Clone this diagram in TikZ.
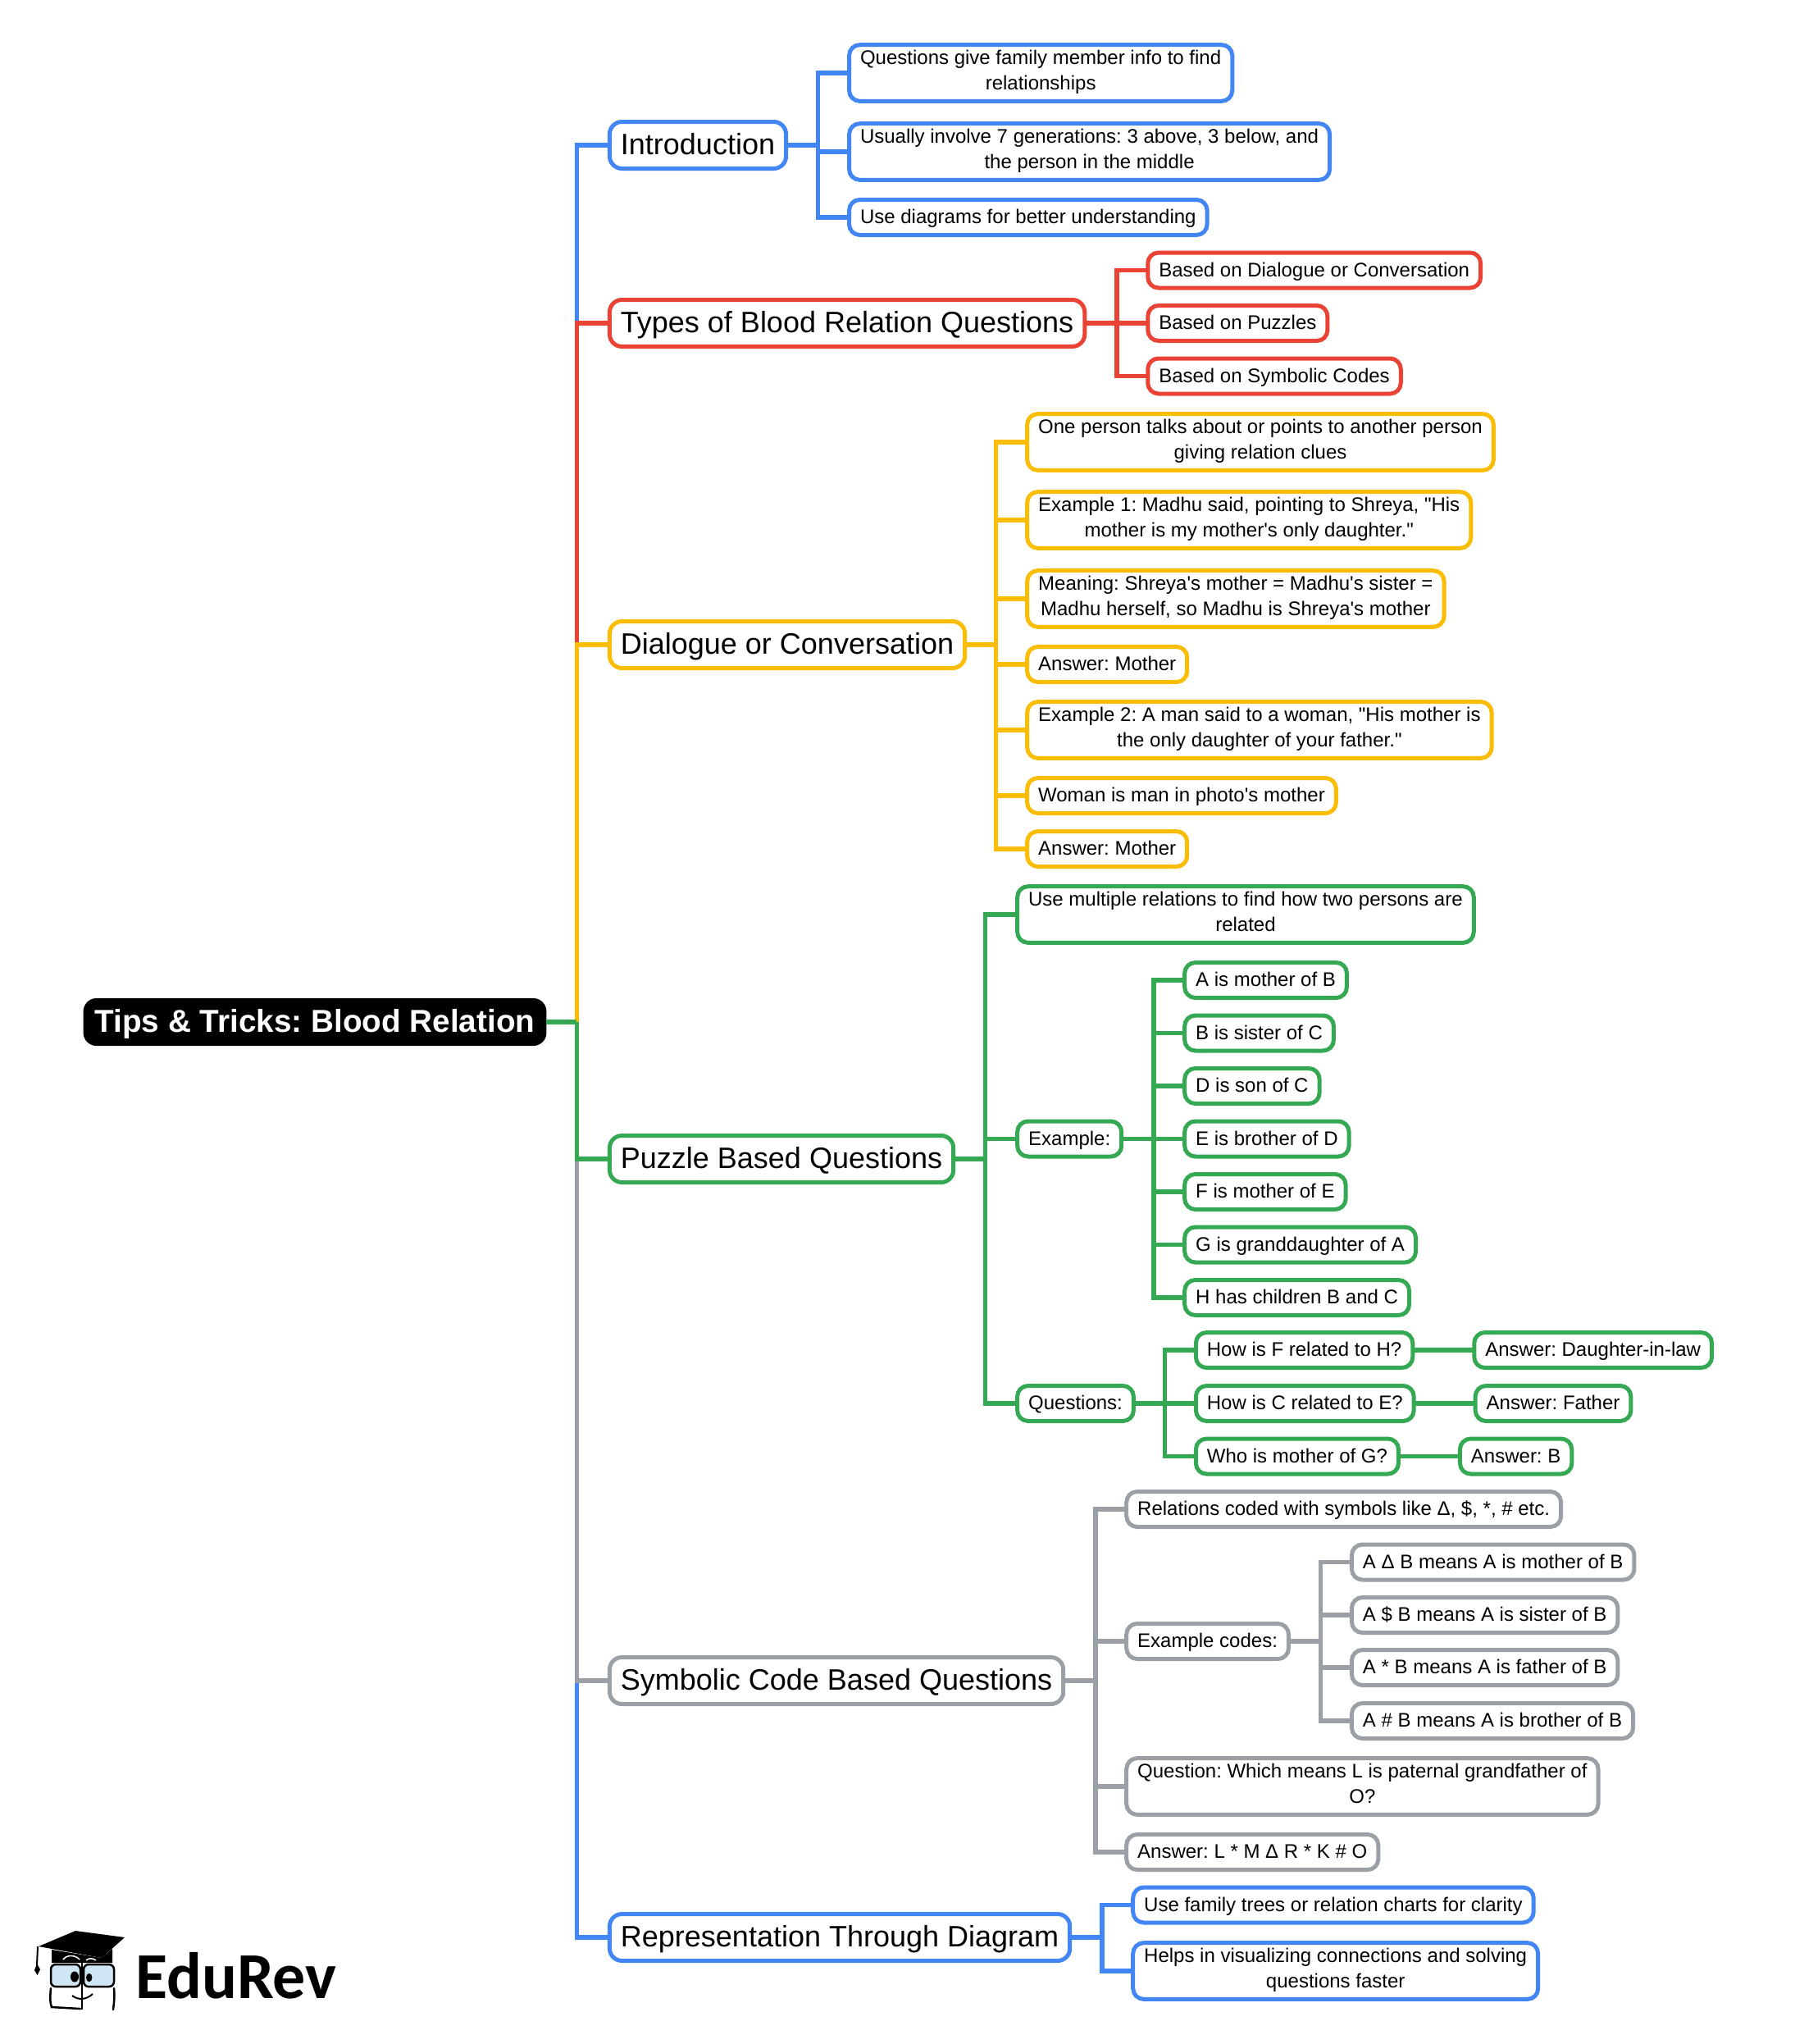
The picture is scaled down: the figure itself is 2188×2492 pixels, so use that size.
\documentclass[tikz,border=0pt]{standalone}
\usepackage{fontspec}
\usepackage{tikz}
\usetikzlibrary{positioning}
\newfontfamily\mapfont{Liberation Sans}
\newfontfamily\logofont{Carlito}
\definecolor{mapblue}{HTML}{4285F4}
\definecolor{mapred}{HTML}{EA4335}
\definecolor{mapyellow}{HTML}{FBBC04}
\definecolor{mapgreen}{HTML}{34A853}
\definecolor{mapgrey}{HTML}{9AA0A6}
\definecolor{logoglass}{HTML}{CFE6F5}
\newcommand{\linefill}{\rule[-8pt]{0pt}{31pt}}
\tikzset{
  leaf/.style={draw, fill=white, line width=5pt, rounded corners=13pt, outer sep=0pt,
    inner xsep=13.5pt, inner ysep=6pt, align=center,
    font=\mapfont\frenchspacing\fontsize{24}{31.3}\selectfont,
    execute at begin node={\linefill}},
  branch/.style={draw, fill=white, line width=5pt, rounded corners=15pt, outer sep=0pt,
    inner xsep=13.5pt, inner ysep=8.5pt,
    font=\mapfont\frenchspacing\fontsize{36}{40}\selectfont,
    execute at begin node={\rule[-9pt]{0pt}{40pt}}},
  rootbox/.style={fill=black, text=white, rounded corners=16pt, outer sep=0pt,
    inner xsep=14pt, inner ysep=8pt,
    font=\mapfont\frenchspacing\bfseries\fontsize{38.7}{42}\selectfont,
    execute at begin node={\rule[-9pt]{0pt}{42pt}}},
  link/.style={line width=5.6pt}
}
\begin{document}
\begin{tikzpicture}[x=1pt,y=-1pt]
\useasboundingbox (0,0) rectangle (2188,2492);
\node [rootbox] (root) at (384,1246) {Tips \& Tricks: Blood Relation};
\coordinate [right=37pt of root] (rootbar);
\node [branch, draw=mapblue, right=40pt of rootbar, yshift=1069pt] (intro) {Introduction};
\node [branch, draw=mapred, right=40pt of rootbar, yshift=852pt] (types) {Types of Blood Relation Questions};
\node [branch, draw=mapyellow, right=40pt of rootbar, yshift=460pt] (dialog) {Dialogue or Conversation};
\node [branch, draw=mapgreen, right=40pt of rootbar, yshift=-167pt] (puzzle) {Puzzle Based Questions};
\node [branch, draw=mapgrey, right=40pt of rootbar, yshift=-803pt] (symbolic) {Symbolic Code Based Questions};
\node [branch, draw=mapblue, right=40pt of rootbar, yshift=-1116pt] (repr) {Representation Through Diagram};

\coordinate [right=39pt of intro] (introbar);
\node [leaf, draw=mapblue, right=38pt of introbar, yshift=88pt] (intro1) {Questions give family member info to find\\relationships\linefill};
\node [leaf, draw=mapblue, right=38pt of introbar, yshift=-8pt] (intro2) {Usually involve 7 generations: 3 above, 3 below, and\\the person in the middle\linefill};
\node [leaf, draw=mapblue, right=38pt of introbar, yshift=-88pt] (intro3) {Use diagrams for better understanding};

\coordinate [right=39pt of types] (typesbar);
\node [leaf, draw=mapred, right=38pt of typesbar, yshift=64.5pt] (types1) {Based on Dialogue or Conversation};
\node [leaf, draw=mapred, right=38pt of typesbar] (types2) {Based on Puzzles};
\node [leaf, draw=mapred, right=38pt of typesbar, yshift=-64.5pt] (types3) {Based on Symbolic Codes};

\coordinate [right=38pt of dialog] (dialogbar);
\node [leaf, draw=mapyellow, right=38pt of dialogbar, yshift=247pt] (dialog1) {One person talks about or points to another person\\giving relation clues\linefill};
\node [leaf, draw=mapyellow, right=38pt of dialogbar, yshift=152pt] (dialog2) {Example 1: Madhu said, pointing to Shreya, "His\\mother is my mother's only daughter."\linefill};
\node [leaf, draw=mapyellow, right=38pt of dialogbar, yshift=56pt] (dialog3) {Meaning: Shreya's mother = Madhu's sister =\\Madhu herself, so Madhu is Shreya's mother\linefill};
\node [leaf, draw=mapyellow, right=38pt of dialogbar, yshift=-24pt] (dialog4) {Answer: Mother};
\node [leaf, draw=mapyellow, right=38pt of dialogbar, yshift=-104pt] (dialog5) {Example 2: A man said to a woman, "His mother is\\the only daughter of your father."\linefill};
\node [leaf, draw=mapyellow, right=38pt of dialogbar, yshift=-184pt] (dialog6) {Woman is man in photo's mother};
\node [leaf, draw=mapyellow, right=38pt of dialogbar, yshift=-249pt] (dialog7) {Answer: Mother};

\coordinate [right=39pt of puzzle] (puzzlebar);
\node [leaf, draw=mapgreen, right=39pt of puzzlebar, yshift=298pt] (puzzle1) {Use multiple relations to find how two persons are\\related\linefill};
\node [leaf, draw=mapgreen, right=39pt of puzzlebar, yshift=24.5pt] (example) {Example:};
\node [leaf, draw=mapgreen, right=39pt of puzzlebar, yshift=-298pt] (questions) {Questions:};

\coordinate [right=39pt of example] (examplebar);
\node [leaf, draw=mapgreen, right=38pt of examplebar, yshift=193.5pt] (fact1) {A is mother of B};
\node [leaf, draw=mapgreen, right=38pt of examplebar, yshift=129pt] (fact2) {B is sister of C};
\node [leaf, draw=mapgreen, right=38pt of examplebar, yshift=64.5pt] (fact3) {D is son of C};
\node [leaf, draw=mapgreen, right=38pt of examplebar] (fact4) {E is brother of D};
\node [leaf, draw=mapgreen, right=38pt of examplebar, yshift=-64.5pt] (fact5) {F is mother of E};
\node [leaf, draw=mapgreen, right=38pt of examplebar, yshift=-129pt] (fact6) {G is granddaughter of A};
\node [leaf, draw=mapgreen, right=38pt of examplebar, yshift=-193.5pt] (fact7) {H has children B and C};

\coordinate [right=38pt of questions] (questionsbar);
\node [leaf, draw=mapgreen, right=38pt of questionsbar, yshift=65pt] (ask1) {How is F related to H?};
\node [leaf, draw=mapgreen, right=38pt of questionsbar] (ask2) {How is C related to E?};
\node [leaf, draw=mapgreen, right=38pt of questionsbar, yshift=-64.5pt] (ask3) {Who is mother of G?};
\node [leaf, draw=mapgreen, right=75pt of ask1] (reply1) {Answer: Daughter-in-law};
\node [leaf, draw=mapgreen, right=75pt of ask2] (reply2) {Answer: Father};
\node [leaf, draw=mapgreen, right=75pt of ask3] (reply3) {Answer: B};

\coordinate [right=39pt of symbolic] (symbolicbar);
\node [leaf, draw=mapgrey, right=38pt of symbolicbar, yshift=209pt] (symbolic1) {Relations coded with symbols like Δ, \$, *, \# etc.};
\node [leaf, draw=mapgrey, right=38pt of symbolicbar, yshift=48pt] (codes) {Example codes:};
\node [leaf, draw=mapgrey, right=38pt of symbolicbar, yshift=-129pt] (symbolic3) {Question: Which means L is paternal grandfather of\\O?\linefill};
\node [leaf, draw=mapgrey, right=38pt of symbolicbar, yshift=-209pt] (symbolic4) {Answer: L * M Δ R * K \# O};

\coordinate [right=39pt of codes] (codesbar);
\node [leaf, draw=mapgrey, right=38pt of codesbar, yshift=96.5pt] (code1) {A Δ B means A is mother of B};
\node [leaf, draw=mapgrey, right=38pt of codesbar, yshift=32pt] (code2) {A \$ B means A is sister of B};
\node [leaf, draw=mapgrey, right=38pt of codesbar, yshift=-32pt] (code3) {A * B means A is father of B};
\node [leaf, draw=mapgrey, right=38pt of codesbar, yshift=-97pt] (code4) {A \# B means A is brother of B};

\coordinate [right=39pt of repr] (reprbar);
\node [leaf, draw=mapblue, right=38pt of reprbar, yshift=39.5pt] (repr1) {Use family trees or relation charts for clarity};
\node [leaf, draw=mapblue, right=38pt of reprbar, yshift=-41pt] (repr2) {Helps in visualizing connections and solving\\questions faster\linefill};

\draw [link, mapblue] (rootbar) |- (intro);
\draw [link, mapred] (rootbar) |- (types);
\draw [link, mapyellow] (rootbar) |- (dialog);
\draw [link, mapblue] (rootbar) |- (repr);
\draw [link, mapgrey] (rootbar) |- (symbolic);
\draw [link, mapgreen] (rootbar) |- (puzzle);
\draw [link, mapgreen] (root) -- (rootbar);

\draw [link, mapblue] (intro) -- (introbar);
\draw [link, mapblue] (introbar) |- (intro1);
\draw [link, mapblue] (introbar) |- (intro2);
\draw [link, mapblue] (introbar) |- (intro3);

\draw [link, mapred] (types) -- (types2);
\draw [link, mapred] (typesbar) |- (types1);
\draw [link, mapred] (typesbar) |- (types3);

\draw [link, mapyellow] (dialog) -- (dialogbar);
\draw [link, mapyellow] (dialogbar) |- (dialog1);
\draw [link, mapyellow] (dialogbar) |- (dialog2);
\draw [link, mapyellow] (dialogbar) |- (dialog3);
\draw [link, mapyellow] (dialogbar) |- (dialog4);
\draw [link, mapyellow] (dialogbar) |- (dialog5);
\draw [link, mapyellow] (dialogbar) |- (dialog6);
\draw [link, mapyellow] (dialogbar) |- (dialog7);

\draw [link, mapgreen] (puzzle) -- (puzzlebar);
\draw [link, mapgreen] (puzzlebar) |- (puzzle1);
\draw [link, mapgreen] (puzzlebar) |- (example);
\draw [link, mapgreen] (puzzlebar) |- (questions);

\draw [link, mapgreen] (example) -- (fact4);
\draw [link, mapgreen] (examplebar) |- (fact1);
\draw [link, mapgreen] (examplebar) |- (fact2);
\draw [link, mapgreen] (examplebar) |- (fact3);
\draw [link, mapgreen] (examplebar) |- (fact5);
\draw [link, mapgreen] (examplebar) |- (fact6);
\draw [link, mapgreen] (examplebar) |- (fact7);

\draw [link, mapgreen] (questions) -- (ask2);
\draw [link, mapgreen] (questionsbar) |- (ask1);
\draw [link, mapgreen] (questionsbar) |- (ask3);
\draw [link, mapgreen] (ask1) -- (reply1);
\draw [link, mapgreen] (ask2) -- (reply2);
\draw [link, mapgreen] (ask3) -- (reply3);

\draw [link, mapgrey] (symbolic) -- (symbolicbar);
\draw [link, mapgrey] (symbolicbar) |- (symbolic1);
\draw [link, mapgrey] (symbolicbar) |- (codes);
\draw [link, mapgrey] (symbolicbar) |- (symbolic3);
\draw [link, mapgrey] (symbolicbar) |- (symbolic4);

\draw [link, mapgrey] (codes) -- (codesbar);
\draw [link, mapgrey] (codesbar) |- (code1);
\draw [link, mapgrey] (codesbar) |- (code2);
\draw [link, mapgrey] (codesbar) |- (code3);
\draw [link, mapgrey] (codesbar) |- (code4);

\draw [link, mapblue] (repr) -- (reprbar);
\draw [link, mapblue] (reprbar) |- (repr1);
\draw [link, mapblue] (reprbar) |- (repr2);

\fill (47,2373) -- (92,2354) -- (152,2362) -- (124,2387) -- cycle;
\fill (63,2377) -- (124,2387) -- (137,2376) -- (137,2393) -- (63,2393) -- cycle;
\draw [line width=2pt] (46,2373) -- (45,2396);
\fill (45,2394) -- (42,2402) -- (45.5,2408) -- (49,2401) -- cycle;
\draw [white, line width=1.5pt] (77,2389) .. controls (81,2383) and (92,2383) .. (97,2389);
\draw [white, line width=1.5pt] (105,2390) .. controls (108,2387) and (113,2387) .. (117,2390);
\draw [line width=2.5pt, fill=logoglass, rounded corners=6pt] (62,2395) rectangle (98,2422);
\draw [line width=2.5pt, fill=logoglass, rounded corners=6pt] (102,2395) rectangle (139,2422);
\draw [line width=2.5pt, line cap=round] (62,2424) .. controls (61,2435) and (61,2442) .. (63,2447) -- (98,2449);
\draw [line width=2.5pt, line cap=round] (139,2424) .. controls (140,2435) and (139,2442) .. (138,2450);
\draw [line width=2.5pt] (100,2393) -- (100,2450);
\fill (91,2410) ellipse [x radius=5, y radius=6.5];
\fill (108.7,2411) ellipse [x radius=3.7, y radius=5.2];
\draw [line width=2pt] (88,2433) .. controls (96,2439) and (105,2438) .. (113,2431);
\node [anchor=base west, inner sep=0pt, font=\logofont\bfseries\fontsize{80}{80}\selectfont] (logotext) at (165,2436) {EduRev};
\end{tikzpicture}
\end{document}
